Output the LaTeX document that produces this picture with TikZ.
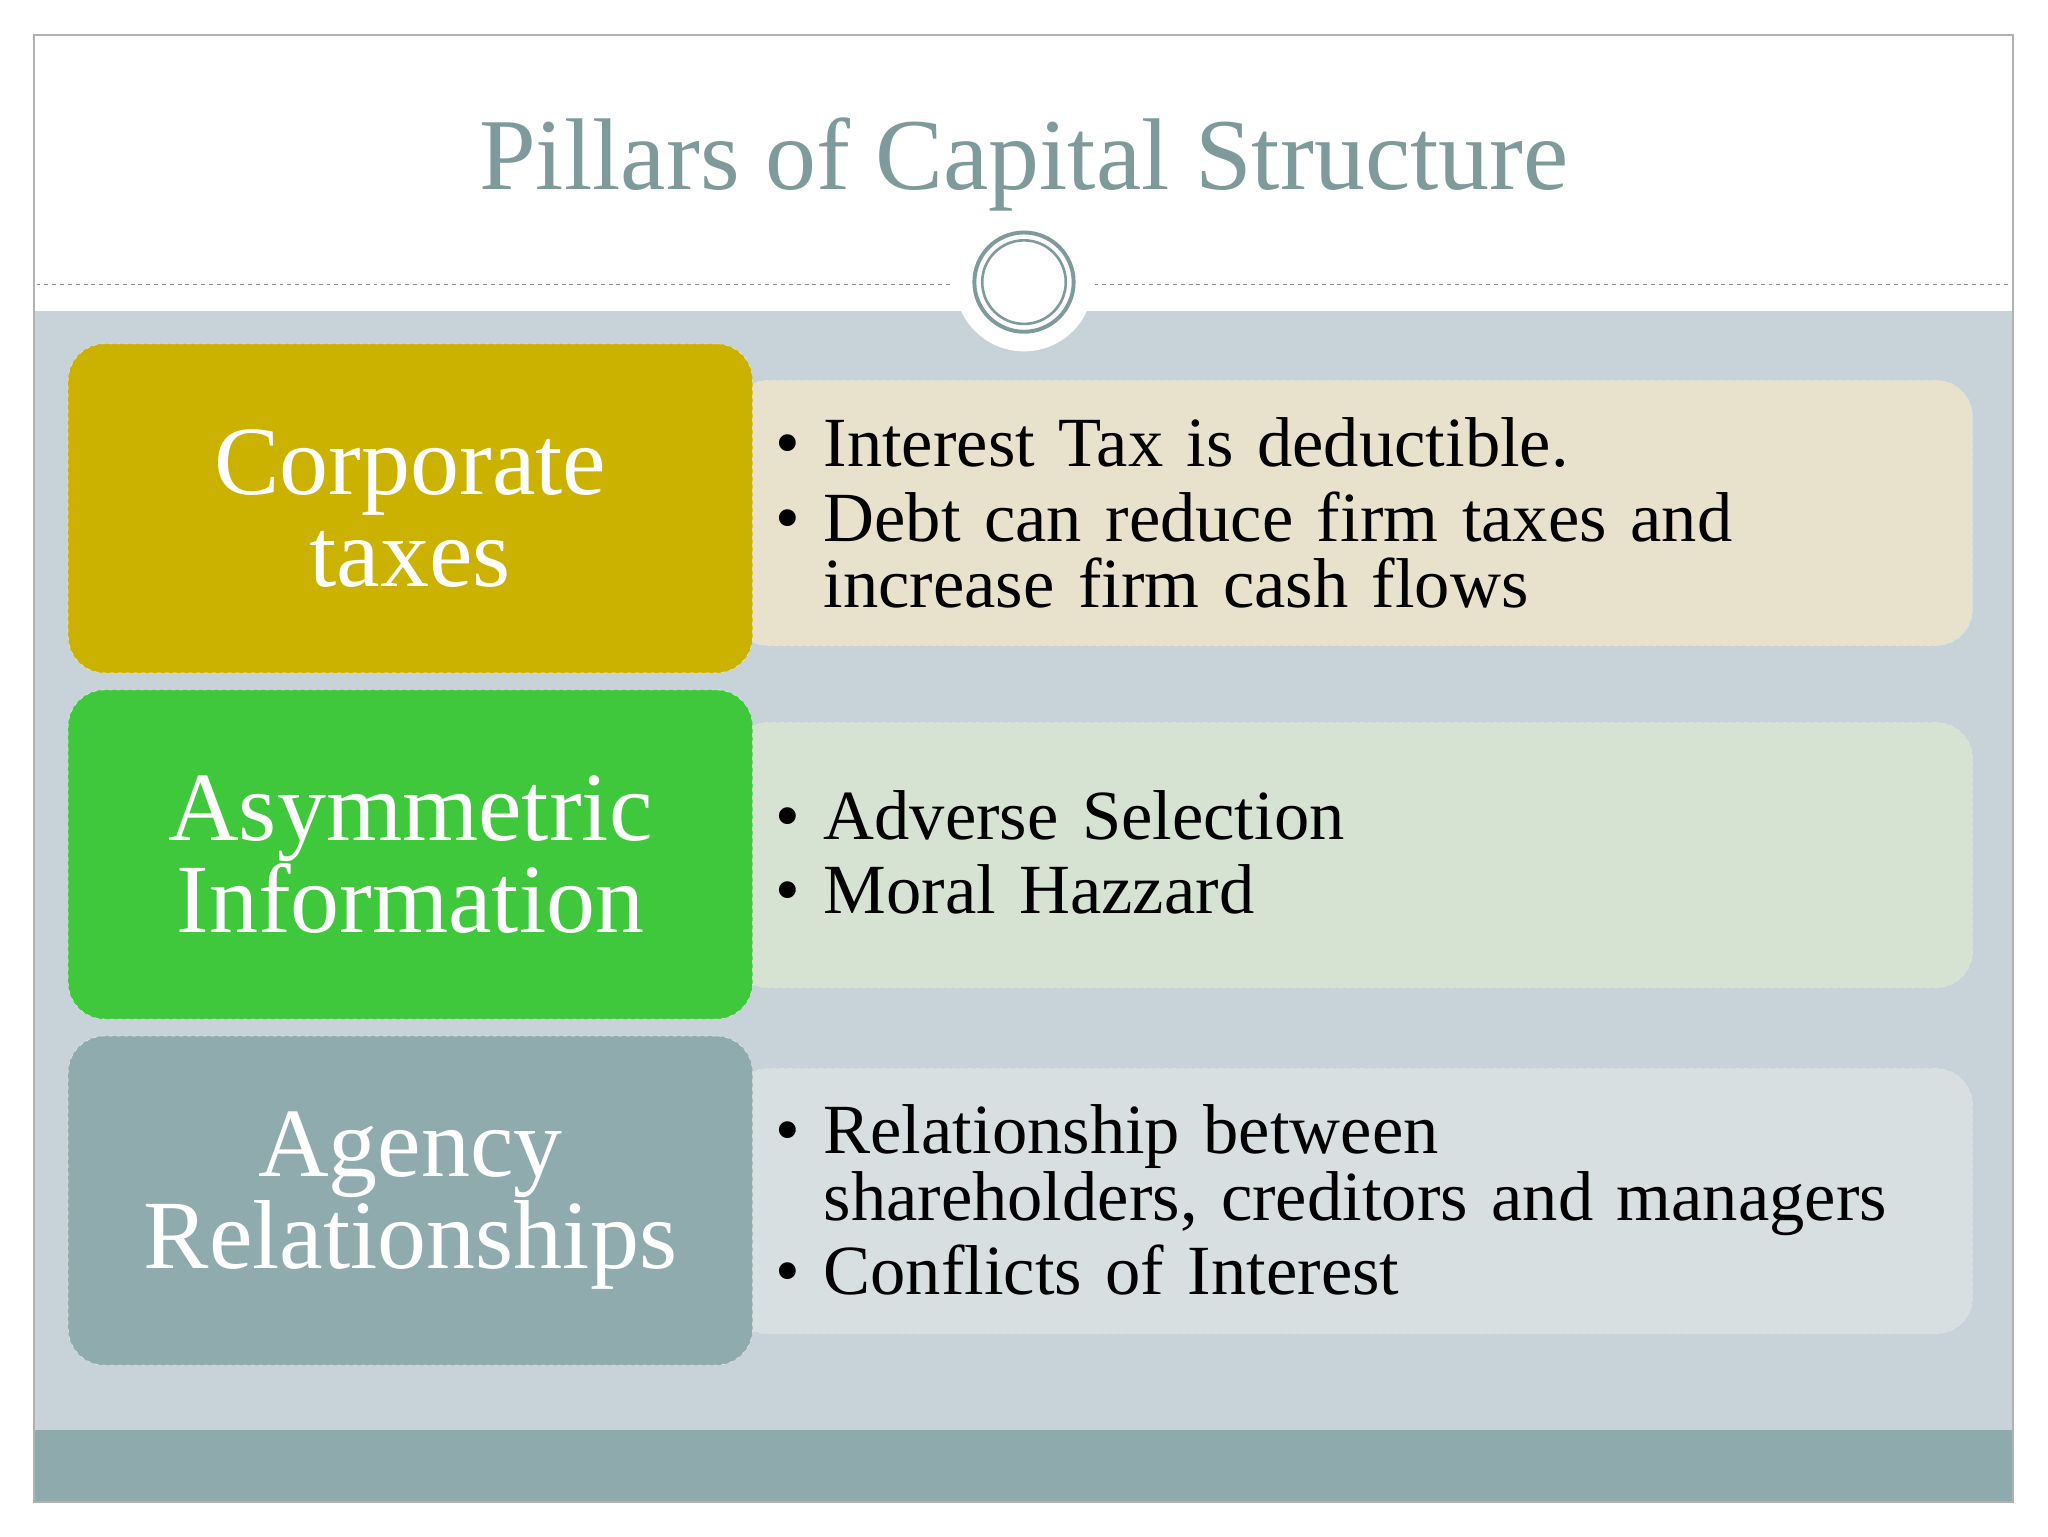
\documentclass[tikz,border=0pt]{standalone}
\usepackage{fontspec}
\setmainfont{Liberation Serif}
\newcommand{\myitems}{\raggedright\setlength{\itemsep}{6pt}\setlength{\parskip}{0pt}\setlength{\topsep}{0pt}\setlength{\leftmargini}{42pt}\setlength{\labelsep}{18pt}}
\begin{document}
\begin{tikzpicture}[x=1pt,y=-1pt,
  lbox/.style={draw=white!85!gray,dashed,rounded corners=28pt,minimum width=524pt,minimum height=252pt,anchor=north west,text=white,align=center,font=\fontsize{75}{70}\selectfont},
  rbox/.style={draw=white!80!gray,dashed,rounded corners=28pt,minimum width=950pt,minimum height=203pt,anchor=north west},
  btxt/.style={anchor=west,align=left,font=\fontsize{54}{51}\selectfont,text width=900pt}]
\useasboundingbox (0,0) rectangle (1568,1176);
\fill[white] (0,0) rectangle (1568,1176);
\fill[white] (26,27) rectangle (1541,238);
\fill[fill={rgb,255:red,200;green,211;blue,217}] (26,238) rectangle (1541,1095);
\fill[fill={rgb,255:red,143;green,170;blue,172}] (26,1095) rectangle (1541,1150);
\draw[gray!60,line width=1.2pt] (26,27) rectangle (1541,1150);
\draw[gray!85,dashed] (28,218) -- (728,218);
\draw[gray!85,dashed] (838,218) -- (1538,218);
\fill[white] (784,216) circle (53);
\node[draw={rgb,255:red,127;green,154;blue,154},line width=3pt,circle,minimum size=76pt] (c1) at (784,216) {};
\node[draw={rgb,255:red,127;green,154;blue,154},line width=2pt,circle,minimum size=64pt] (c2) at (784,216) {};
\node[text={rgb,255:red,127;green,154;blue,154},font=\fontsize{78}{86}\selectfont] (title) at (784,126) {Pillars of Capital Structure};
% right boxes
\node[rbox,fill={rgb,255:red,232;green,226;blue,204}] (r1) at (560,291) {};
\node[rbox,fill={rgb,255:red,214;green,227;blue,210}] (r2) at (560,553) {};
\node[rbox,fill={rgb,255:red,215;green,223;blue,225}] (r3) at (560,818) {};
% left boxes
\node[lbox,fill={rgb,255:red,204;green,178;blue,0}] (l1) at (52,263) {Corporate\\taxes};
\node[lbox,fill={rgb,255:red,64;green,200;blue,60}] (l2) at (52,528) {Asymmetric\\Information};
\node[lbox,fill={rgb,255:red,143;green,171;blue,173}] (l3) at (52,793) {Agency\\Relationships};
% texts
\node[btxt] (t1) at (602,382) {\begin{itemize}\myitems
\item Interest Tax is deductible.
\item Debt can reduce firm taxes and\newline increase firm cash flows\end{itemize}};
\node[btxt] (t2) at (602,642) {\begin{itemize}\myitems
\item Adverse Selection
\item Moral Hazzard\end{itemize}};
\node[btxt] (t3) at (602,908) {\begin{itemize}\myitems
\item Relationship between\newline shareholders, creditors and managers
\item Conflicts of Interest\end{itemize}};
\end{tikzpicture}
\end{document}
